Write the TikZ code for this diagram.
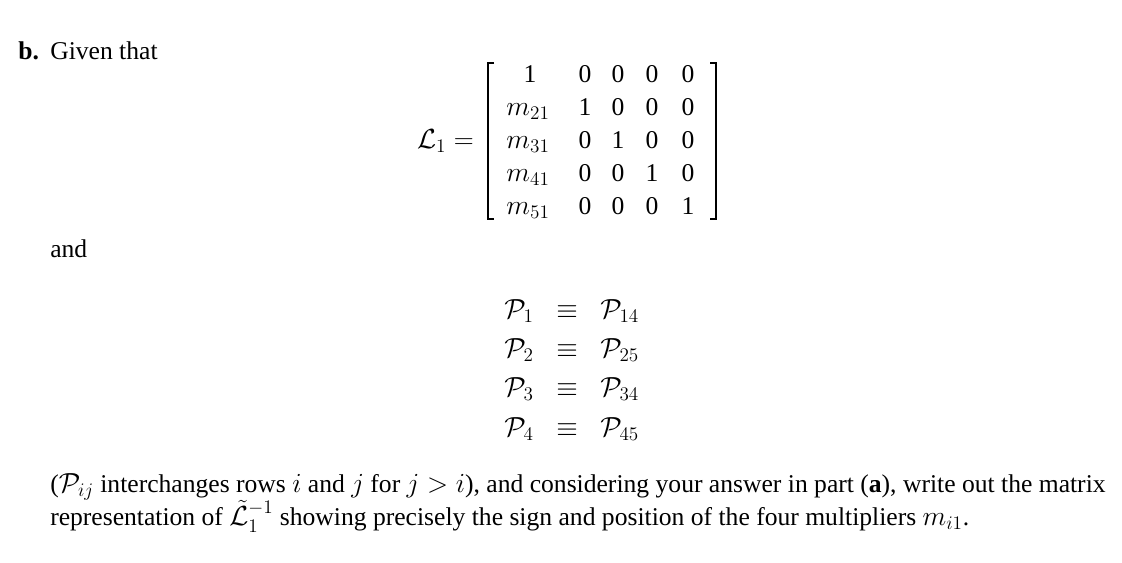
\documentclass[tikz,border=0pt]{standalone}
\usepackage{fontspec}
\setmainfont{Liberation Serif}
\usepackage{amsmath}
\begin{document}
\begin{tikzpicture}[x=0.75pt,y=-0.75pt,font=\fontsize{19.2}{22}\selectfont,
  t/.style={anchor=base west,inner sep=0pt},
  e/.style={anchor=base,inner sep=0pt}]
\useasboundingbox (0,0) rectangle (1122,562);
\node[t] (b) at (18,59) {\textbf{b.}};
\node[t] (g) at (50,59) {Given that};
\node[anchor=base east,inner sep=0pt] (L) at (474,148) {$\mathcal{L}_1 =$};
\foreach \r/\y in {1/82,2/115,3/148,4/181,5/214}{
  \foreach \c/\x in {2/585,3/618,4/652,5/688}{
    \pgfmathtruncatemacro{\v}{(\r==\c)?1:0}
    \node[e] (m\r\c) at (\x,\y) {\v};
  }}
\node[e] (m11) at (530,82) {1};
\node[e] (m21) at (528,115) {$m_{21}$};
\node[e] (m31) at (528,148) {$m_{31}$};
\node[e] (m41) at (528,181) {$m_{41}$};
\node[e] (m51) at (528,214) {$m_{51}$};
\draw[line width=1.1pt] (494,63) -- (488,63) -- (488,219) -- (494,219);
\draw[line width=1.1pt] (710,63) -- (716,63) -- (716,219) -- (710,219);
\node[t] (and) at (50,257) {and};
\foreach \i/\j/\y in {1/14/318,2/25/357,3/34/396,4/45/436}{
  \node[anchor=base east,inner sep=0pt] (p\i) at (534,\y) {$\mathcal{P}_{\i}$};
  \node[e] (q\i) at (567,\y) {$\equiv$};
  \node[t] (r\i) at (600,\y) {$\mathcal{P}_{\j}$};
}
\node[t] (l1) at (50,492) {($\mathcal{P}_{ij}$ interchanges rows $i$ and $j$ for $j>i$), and considering your answer in part (\textbf{a}), write out the matrix};
\node[t] (l2) at (50,525) {representation of $\tilde{\mathcal{L}}_1^{-1}$ showing precisely the sign and position of the four multipliers $m_{i1}$.};
\end{tikzpicture}
\end{document}
